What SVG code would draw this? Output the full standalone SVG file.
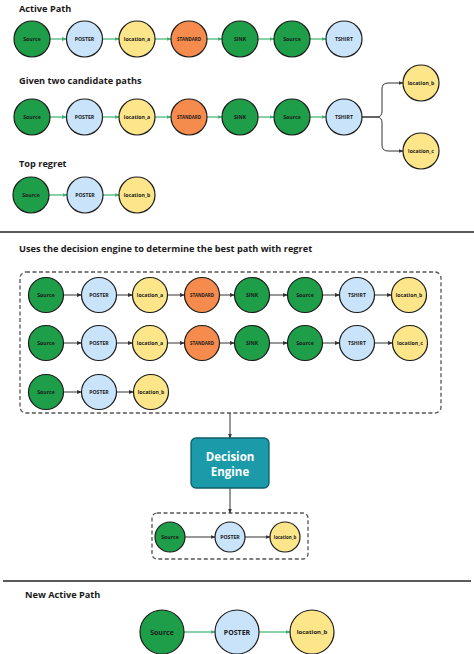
<svg xmlns="http://www.w3.org/2000/svg" width="474" height="654" viewBox="0 0 474 654">
<style>
.t{font-family:"Open Sans","Liberation Sans",sans-serif;font-weight:700;fill:#1a1a1a}
.title{font-size:9.2px}
.lbl{font-family:"Open Sans","Liberation Sans",sans-serif;font-weight:700;text-anchor:middle;dominant-baseline:central;fill:#1a1a1a}
.s5{font-size:5.2px}
.s4{font-size:4.4px}
.s7{font-size:7px}
.g{fill:#1f9e4a;stroke:#1b1b1b;stroke-width:1.2}
.b{fill:#c9e3fb;stroke:#1b1b1b;stroke-width:1.2}
.y{fill:#fde68a;stroke:#1b1b1b;stroke-width:1.2}
.o{fill:#f58b4c;stroke:#1b1b1b;stroke-width:1.2}
.ga{stroke:#3cb371;stroke-width:1.2;fill:none;marker-end:url(#mg)}
.da{stroke:#333;stroke-width:1;fill:none;marker-end:url(#md)}
.dash{fill:none;stroke:#555;stroke-width:1.3;stroke-dasharray:4 2.5}
.sep{stroke:#5a5a5a;stroke-width:2}
</style>
<defs>
<marker id="mg" viewBox="0 0 10 10" refX="9" refY="5" markerWidth="5" markerHeight="5" orient="auto" markerUnits="userSpaceOnUse"><path d="M0,1 L10,5 L0,9 z" fill="#3cb371"/></marker>
<marker id="md" viewBox="0 0 10 10" refX="9" refY="5" markerWidth="5" markerHeight="5" orient="auto" markerUnits="userSpaceOnUse"><path d="M0,1 L10,5 L0,9 z" fill="#333"/></marker>
</defs>

<!-- titles -->
<text class="t title" x="19" y="11.5">Active Path</text>
<text class="t title" x="19" y="83.5">Given two candidate paths</text>
<text class="t title" x="19" y="166.5">Top regret</text>
<text class="t title" x="19" y="251.5">Uses the decision engine to determine the best path with regret</text>
<text class="t title" x="25" y="597.5">New Active Path</text>

<!-- separators and boxes -->
<line class="sep" x1="0" y1="232" x2="474" y2="232"/>
<line class="sep" x1="3" y1="581" x2="471" y2="581" stroke-width="1.6"/>
<rect id="candidates-box" class="dash" x="20" y="272" width="421" height="141" rx="6"/>
<rect id="result-box" class="dash" x="152" y="513" width="156" height="46" rx="5"/>

<g id="connectors">
<!-- row 1 -->
<line class="ga" x1="50" y1="39" x2="66.5" y2="39"/>
<line class="ga" x1="102.5" y1="39" x2="119" y2="39"/>
<line class="ga" x1="155" y1="39" x2="171" y2="39"/>
<line class="ga" x1="207" y1="39" x2="222" y2="39"/>
<line class="ga" x1="258" y1="39" x2="274" y2="39"/>
<line class="ga" x1="310" y1="39" x2="326" y2="39"/>
<!-- row 2 -->
<line class="ga" x1="50" y1="117" x2="66.5" y2="117"/>
<line class="ga" x1="102.5" y1="117" x2="119" y2="117"/>
<line class="ga" x1="155" y1="117" x2="171" y2="117"/>
<line class="ga" x1="207" y1="117" x2="222" y2="117"/>
<line class="ga" x1="258" y1="117" x2="274" y2="117"/>
<line class="ga" x1="310" y1="117" x2="326" y2="117"/>
<path class="da" d="M362,117 H377 Q382,117 382,111 V89 Q382,83 388,83 H403"/>
<path class="da" d="M362,117 H377 Q382,117 382,123 V145 Q382,151 388,151 H403"/>
<!-- row 3 -->
<line class="ga" x1="49" y1="195" x2="67" y2="195"/>
<line class="ga" x1="103" y1="195" x2="119" y2="195"/>
<!-- box row A -->
<line class="da" x1="63.5" y1="295" x2="81.5" y2="295"/>
<line class="da" x1="116.5" y1="295" x2="132.5" y2="295"/>
<line class="da" x1="167.5" y1="295" x2="184.5" y2="295"/>
<line class="da" x1="219.5" y1="295" x2="234.5" y2="295"/>
<line class="da" x1="269.5" y1="295" x2="287.5" y2="295"/>
<line class="da" x1="322.5" y1="295" x2="339.5" y2="295"/>
<line class="da" x1="374.5" y1="295" x2="391.5" y2="295"/>
<!-- box row B -->
<line class="da" x1="63.5" y1="343" x2="81.5" y2="343"/>
<line class="da" x1="116.5" y1="343" x2="132.5" y2="343"/>
<line class="da" x1="167.5" y1="343" x2="184.5" y2="343"/>
<line class="da" x1="219.5" y1="343" x2="234.5" y2="343"/>
<line class="da" x1="269.5" y1="343" x2="287.5" y2="343"/>
<line class="da" x1="322.5" y1="343" x2="339.5" y2="343"/>
<line class="da" x1="374.5" y1="343" x2="392.5" y2="343"/>
<!-- box row C -->
<line class="da" x1="63.5" y1="392" x2="81.5" y2="392"/>
<line class="da" x1="116.5" y1="392" x2="133.5" y2="392"/>
<!-- to engine -->
<line class="da" x1="230" y1="413" x2="230" y2="438"/>
<line class="da" x1="230" y1="488" x2="230" y2="513"/>
<!-- result box -->
<line class="da" x1="185" y1="537" x2="215" y2="537"/>
<line class="da" x1="245" y1="537" x2="270" y2="537"/>
<!-- final -->
<line class="ga" x1="184" y1="632" x2="215" y2="632"/>
<line class="ga" x1="259" y1="632" x2="290" y2="632"/>
</g>

<!-- row 1 nodes -->
<g id="r1-source"><circle class="g" cx="32" cy="39" r="18"/><text class="lbl s5" x="32" y="39">Source</text></g>
<g id="r1-poster"><circle class="b" cx="84.5" cy="39" r="18"/><text class="lbl s5" x="84.5" y="39">POSTER</text></g>
<g id="r1-location_a"><circle class="y" cx="137" cy="39" r="18"/><text class="lbl s5" x="137" y="39">location_a</text></g>
<g id="r1-standard"><circle class="o" cx="189" cy="39" r="18"/><text class="lbl s4" x="189" y="39">STANDARD</text></g>
<g id="r1-sink"><circle class="g" cx="240" cy="39" r="18"/><text class="lbl s5" x="240" y="39">SINK</text></g>
<g id="r1-source2"><circle class="g" cx="292" cy="39" r="18"/><text class="lbl s5" x="292" y="39">Source</text></g>
<g id="r1-tshirt"><circle class="b" cx="344" cy="39" r="18"/><text class="lbl s5" x="344" y="39">TSHIRT</text></g>

<!-- row 2 nodes -->
<g id="r2-source"><circle class="g" cx="32" cy="117" r="18"/><text class="lbl s5" x="32" y="117">Source</text></g>
<g id="r2-poster"><circle class="b" cx="84.5" cy="117" r="18"/><text class="lbl s5" x="84.5" y="117">POSTER</text></g>
<g id="r2-location_a"><circle class="y" cx="137" cy="117" r="18"/><text class="lbl s5" x="137" y="117">location_a</text></g>
<g id="r2-standard"><circle class="o" cx="189" cy="117" r="18"/><text class="lbl s4" x="189" y="117">STANDARD</text></g>
<g id="r2-sink"><circle class="g" cx="240" cy="117" r="18"/><text class="lbl s5" x="240" y="117">SINK</text></g>
<g id="r2-source2"><circle class="g" cx="292" cy="117" r="18"/><text class="lbl s5" x="292" y="117">Source</text></g>
<g id="r2-tshirt"><circle class="b" cx="344" cy="117" r="18"/><text class="lbl s5" x="344" y="117">TSHIRT</text></g>
<g id="r2-location_b"><circle class="y" cx="421" cy="83" r="18"/><text class="lbl s5" x="421" y="83">location_b</text></g>
<g id="r2-location_c"><circle class="y" cx="421" cy="151" r="18"/><text class="lbl s5" x="421" y="151">location_c</text></g>

<!-- row 3 nodes -->
<g id="r3-source"><circle class="g" cx="31" cy="195" r="18"/><text class="lbl s5" x="31" y="195">Source</text></g>
<g id="r3-poster"><circle class="b" cx="85" cy="195" r="18"/><text class="lbl s5" x="85" y="195">POSTER</text></g>
<g id="r3-location_b"><circle class="y" cx="137" cy="195" r="18"/><text class="lbl s5" x="137" y="195">location_b</text></g>

<!-- box row A -->
<g id="a-source"><circle class="g" cx="46" cy="295" r="17.5"/><text class="lbl s5" x="46" y="295">Source</text></g>
<g id="a-poster"><circle class="b" cx="99" cy="295" r="17.5"/><text class="lbl s5" x="99" y="295">POSTER</text></g>
<g id="a-location_a"><circle class="y" cx="150" cy="295" r="17.5"/><text class="lbl s5" x="150" y="295">location_a</text></g>
<g id="a-standard"><circle class="o" cx="202" cy="295" r="17.5"/><text class="lbl s4" x="202" y="295">STANDARD</text></g>
<g id="a-sink"><circle class="g" cx="252" cy="295" r="17.5"/><text class="lbl s5" x="252" y="295">SINK</text></g>
<g id="a-source2"><circle class="g" cx="305" cy="295" r="17.5"/><text class="lbl s5" x="305" y="295">Source</text></g>
<g id="a-tshirt"><circle class="b" cx="357" cy="295" r="17.5"/><text class="lbl s5" x="357" y="295">TSHIRT</text></g>
<g id="a-location_b"><circle class="y" cx="409" cy="295" r="17.5"/><text class="lbl s5" x="409" y="295">location_b</text></g>

<!-- box row B -->
<g id="b-source"><circle class="g" cx="46" cy="343" r="17.5"/><text class="lbl s5" x="46" y="343">Source</text></g>
<g id="b-poster"><circle class="b" cx="99" cy="343" r="17.5"/><text class="lbl s5" x="99" y="343">POSTER</text></g>
<g id="b-location_a"><circle class="y" cx="150" cy="343" r="17.5"/><text class="lbl s5" x="150" y="343">location_a</text></g>
<g id="b-standard"><circle class="o" cx="202" cy="343" r="17.5"/><text class="lbl s4" x="202" y="343">STANDARD</text></g>
<g id="b-sink"><circle class="g" cx="252" cy="343" r="17.5"/><text class="lbl s5" x="252" y="343">SINK</text></g>
<g id="b-source2"><circle class="g" cx="305" cy="343" r="17.5"/><text class="lbl s5" x="305" y="343">Source</text></g>
<g id="b-tshirt"><circle class="b" cx="357" cy="343" r="17.5"/><text class="lbl s5" x="357" y="343">TSHIRT</text></g>
<g id="b-location_c"><circle class="y" cx="410" cy="343" r="17.5"/><text class="lbl s5" x="410" y="343">location_c</text></g>

<!-- box row C -->
<g id="c-source"><circle class="g" cx="46" cy="392" r="17.5"/><text class="lbl s5" x="46" y="392">Source</text></g>
<g id="c-poster"><circle class="b" cx="99" cy="392" r="17.5"/><text class="lbl s5" x="99" y="392">POSTER</text></g>
<g id="c-location_b"><circle class="y" cx="151" cy="392" r="17.5"/><text class="lbl s5" x="151" y="392">location_b</text></g>

<!-- decision engine -->
<g id="decision-engine">
<rect x="191" y="438" width="78" height="50" rx="5" fill="#1b9aaa" stroke="#0f5f69" stroke-width="1.3"/>
<text x="230" y="460.5" text-anchor="middle" font-family="Open Sans, Liberation Sans, sans-serif" font-weight="700" font-size="11.5" fill="#ffffff">Decision</text>
<text x="230" y="476" text-anchor="middle" font-family="Open Sans, Liberation Sans, sans-serif" font-weight="700" font-size="11.5" fill="#ffffff">Engine</text>
</g>

<!-- result box nodes -->
<g id="res-source"><circle class="g" cx="170" cy="537" r="15"/><text class="lbl s5" x="170" y="537">Source</text></g>
<g id="res-poster"><circle class="b" cx="230" cy="537" r="15"/><text class="lbl s5" x="230" y="537">POSTER</text></g>
<g id="res-location_b"><circle class="y" cx="285" cy="537" r="15"/><text class="lbl s4" x="285" y="537">location_b</text></g>

<!-- new active path -->
<g id="new-source"><circle class="g" cx="162" cy="632" r="22"/><text class="lbl s7" x="162" y="632">Source</text></g>
<g id="new-poster"><circle class="b" cx="237" cy="632" r="22"/><text class="lbl s7" x="237" y="632">POSTER</text></g>
<g id="new-location_b"><circle class="y" cx="312" cy="632" r="22"/><text class="lbl" x="312" y="632" font-size="6">location_b</text></g>
</svg>
